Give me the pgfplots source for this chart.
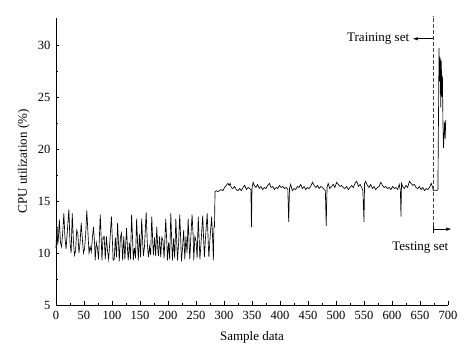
\documentclass[border=0pt]{standalone}
\usepackage{fontspec}
\setmainfont{Liberation Serif}
\usepackage{pgfplots}
\pgfplotsset{compat=1.18}
\usetikzlibrary{arrows.meta}
\begin{document}
\begin{tikzpicture}
\path[use as bounding box] (-56pt,-56pt) rectangle (418pt,305pt);
\begin{axis}[
  at={(0,0)}, anchor=south west,
  scale only axis, width=392pt, height=287pt,
  xmin=0, xmax=700, ymin=5, ymax=32.6,
  axis x line*=bottom, axis y line*=left,
  axis line style={-, line width=0.6pt},
  xtick={0,50,...,700}, ytick={5,10,...,30},
  minor x tick num=1, minor y tick num=1,
  tick align=inside,
  major tick length=3.5pt, minor tick length=2pt,
  tick style={line width=0.6pt, black},
  /pgf/number format/assume math mode=true,
  ticklabel style={font=\fontsize{12.5}{14}\selectfont},
  xticklabel style={yshift=-3pt},
  yticklabel style={xshift=-2pt},
  label style={font=\fontsize{13}{15}\selectfont},
  xlabel={Sample data}, ylabel={CPU utilization (\%)},
  xlabel style={at={(axis description cs:0.5,-0.112)}, anchor=center},
  ylabel style={at={(axis description cs:-0.082,0.5)}, anchor=center},
  clip=false,
]
\addplot[black, line width=0.65pt] table {
0 10.5
1 11.8
2 12.5
3 10.8
4 11.2
6 13.2
8 11.0
10 10.6
12 12.0
14 13.8
16 11.5
18 10.4
20 11.9
23 14.2
25 11.0
27 10.0
29 13.8
31 11.2
33 9.8
35 10.2
37 12.2
39 11.9
41 10.0
43 11.0
45 12.9
47 11.4
49 10.0
51 10.4
53 11.8
55 14.1
57 12.0
59 10.0
61 10.6
63 10.1
65 11.5
67 12.5
69 10.8
70 9.3
72 11.0
74 10.5
76 9.4
79 13.7
81 11.0
82 9.3
84 11.5
86 11.6
88 9.4
90 11.6
92 10.2
94 9.4
96 11.0
99 13.5
101 10.8
102 9.3
104 9.4
106 11.5
108 9.6
110 12.9
112 10.5
113 9.2
115 11.5
117 11.9
119 9.3
121 11.6
123 9.4
126 12.4
128 10.0
129 9.3
131 11.0
133 9.4
135 13.7
137 11.0
138 9.3
140 10.5
142 9.5
144 13.3
146 10.5
147 9.3
149 11.8
151 9.6
153 13.3
155 10.8
156 9.7
158 10.6
161 13.9
163 11.0
165 9.6
167 10.6
169 9.8
171 13.5
173 10.8
174 9.8
176 11.5
178 9.7
180 12.5
182 10.2
183 9.7
185 11.6
187 9.6
189 11.5
191 11.2
193 9.5
196 13.3
198 10.8
199 9.3
201 11.0
203 9.4
205 13.8
207 10.6
208 9.3
210 11.4
212 9.5
214 13.3
216 10.5
217 9.3
219 11.0
221 13.7
223 10.8
224 9.2
226 10.5
228 12.2
230 9.4
232 11.6
234 10.0
236 13.3
238 10.5
239 9.4
241 11.8
243 13.7
245 11.5
246 9.3
248 11.6
250 11.2
252 9.5
254 13.5
256 10.8
257 9.4
259 11.0
262 13.6
264 10.8
265 9.6
267 11.5
270 13.8
272 10.8
273 9.6
275 11.4
278 13.5
280 11.0
281 9.3
282 12.5
283 12.5
284 15.9
286 16.0
289 15.9
292 16.0
295 16.1
298 16.0
301 16.3
304 16.5
307 16.7
309 16.5
311 16.7
313 16.3
316 16.2
319 16.4
322 16.1
325 16.0
328 16.2
331 16.0
334 16.3
337 16.5
340 16.1
343 16.3
346 16.2
348 16.1
349 12.5
350 16.2
352 16.8
354 16.5
357 16.3
360 16.6
363 16.2
366 16.4
369 16.1
372 16.3
375 16.2
378 16.5
381 16.7
384 16.3
387 16.4
390 16.1
393 16.3
396 16.2
399 16.5
402 16.3
405 16.4
408 16.2
411 16.3
414 16.1
415.5 13.0
417 16.2
419 16.6
422 16.0
425 16.2
428 16.1
431 16.4
434 16.3
437 16.6
440 16.2
443 16.4
446 16.1
449 16.3
452 16.2
455 16.4
458 16.8
461 16.5
464 16.3
467 16.5
470 16.2
473 16.4
476 16.3
479 16.1
481 16.0
482.5 12.6
484 16.3
486 16.7
489 16.2
492 16.4
495 16.6
498 16.3
501 16.8
504 16.6
507 16.4
510 16.5
513 16.3
516 16.2
519 16.4
522 16.1
525 16.3
528 16.5
531 16.3
534 16.7
537 16.9
540 16.4
543 16.6
546 16.3
548 16.0
550 13.0
551 16.7
553 16.9
556 16.5
559 16.3
562 16.6
565 16.2
568 16.4
571 16.1
574 16.3
577 16.4
580 16.8
583 16.5
586 16.3
589 16.4
592 16.2
595 16.3
598 16.1
601 16.4
604 16.2
607 16.3
610 16.1
613 16.6
615 16.0
616 13.5
617 16.7
619 16.4
622 16.2
625 16.5
628 16.3
631 16.9
634 16.7
637 16.5
640 16.6
643 16.3
646 16.2
649 16.4
652 16.1
655 16.3
658 16.0
661 16.2
664 16.1
667 16.3
670 16.7
672 16.4
674 16.0
680 16.0
682 16.1
684 29.7
685 26.5
686 28.8
687 24.0
688 28.5
689 25.0
690 27.0
691 22.5
692 20.1
693 21.5
694 22.6
695 21.0
696 22.8
};
% dashed separator
\addplot[black!75, line width=0.6pt, dash pattern=on 4pt off 2pt] coordinates {(674,12.6) (674,32.8)};
\addplot[black, line width=0.6pt] coordinates {(674,11.9) (674,12.6)};
\draw[black, line width=0.6pt, -{Latex[length=5pt,width=3.5pt]}] (axis cs:674,30.6) -- (axis cs:637,30.6);
\draw[black, line width=0.6pt, -{Latex[length=5pt,width=3.5pt]}] (axis cs:674,12.3) -- (axis cs:706,12.3);
\node[anchor=east, font=\fontsize{13}{15}\selectfont, inner sep=0pt] at (axis cs:631,30.6) {Training set};
\node[anchor=center, font=\fontsize{13}{15}\selectfont, inner sep=0pt] at (axis cs:650.5,10.5) {Testing set};
\end{axis}
\end{tikzpicture}
\end{document}
